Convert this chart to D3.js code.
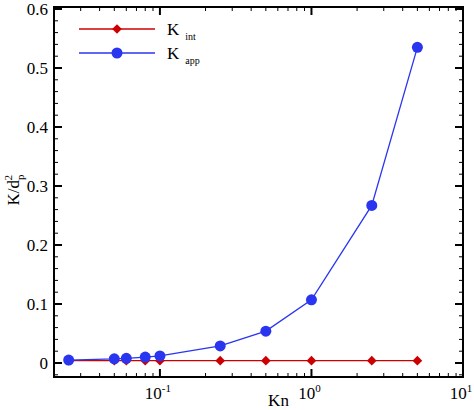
<!DOCTYPE html>
<html><head><meta charset="utf-8">
<script src="https://cdn.jsdelivr.net/npm/d3@7"></script>
<style>body{margin:0;background:#fff}svg text{font-family:"Liberation Serif","Times New Roman","DejaVu Serif",serif;}</style>
</head><body><div id="chart"></div>
<script>
const kn = [0.025, 0.05, 0.06, 0.08, 0.1, 0.25, 0.5, 1, 2.5, 5];
const kApp = [0.005, 0.007, 0.008, 0.01, 0.012, 0.029, 0.054, 0.107, 0.267, 0.535];
const kInt = [0.004, 0.004, 0.004, 0.004, 0.004, 0.004, 0.004, 0.004, 0.004, 0.004];
const yTicks = [0, 0.1, 0.2, 0.3, 0.4, 0.5, 0.6];
const xTicks = [0.1, 1, 10];

const width = 474, height = 410;
const x0 = 54, x1 = 463, yTop = 7, yBot = 377;

const svg = d3.select("#chart").append("svg").attr("width", width).attr("height", height);
const x = d3.scaleLog().domain([0.02, 10]).range([x0, x1]);
const y = d3.scaleLinear().domain([0, 0.6]).range([363, 9]);

// minor ticks
const yMinor = d3.range(-0.02, 0.601, 0.02).filter(v => Math.abs(v * 10 - Math.round(v * 10)) > 1e-6);
const xMinor = [];
[0.01, 0.1, 1].forEach(d => { for (let k = 2; k <= 9; k++) { const v = d * k; if (v >= 0.02 && v < 10) xMinor.push(v); } });

const g = svg.append("g").attr("stroke", "#000").attr("stroke-width", 1);
yTicks.forEach(v => {
  g.append("line").attr("x1", x0).attr("x2", x0 + 8).attr("y1", y(v)).attr("y2", y(v)).attr("stroke-width", 2);
  g.append("line").attr("x1", x1).attr("x2", x1 - 8).attr("y1", y(v)).attr("y2", y(v)).attr("stroke-width", 2);
});
yMinor.forEach(v => {
  g.append("line").attr("x1", x0).attr("x2", x0 + 4).attr("y1", y(v)).attr("y2", y(v));
  g.append("line").attr("x1", x1).attr("x2", x1 - 4).attr("y1", y(v)).attr("y2", y(v));
});
xTicks.forEach(v => {
  g.append("line").attr("x1", x(v)).attr("x2", x(v)).attr("y1", yBot).attr("y2", yBot - 8).attr("stroke-width", 2);
  g.append("line").attr("x1", x(v)).attr("x2", x(v)).attr("y1", yTop).attr("y2", yTop + 8).attr("stroke-width", 2);
});
xMinor.forEach(v => {
  g.append("line").attr("x1", x(v)).attr("x2", x(v)).attr("y1", yBot).attr("y2", yBot - 4);
  g.append("line").attr("x1", x(v)).attr("x2", x(v)).attr("y1", yTop).attr("y2", yTop + 4);
});
svg.append("rect").attr("x", x0).attr("y", yTop).attr("width", x1 - x0).attr("height", yBot - yTop)
  .attr("fill", "none").attr("stroke", "#000").attr("stroke-width", 2);

// tick labels
svg.selectAll(".yl").data(yTicks).join("text").attr("x", x0 - 6).attr("y", d => y(d) + 6)
  .attr("text-anchor", "end").attr("font-size", 17).text(d => d === 0 ? "0" : d3.format(".1f")(d));
const xl = svg.selectAll(".xl").data(xTicks).join("text").attr("x", d => x(d) - 2).attr("y", yBot + 22)
  .attr("text-anchor", "middle").attr("font-size", 17);
xl.append("tspan").text("10");
xl.append("tspan").attr("dy", -7).attr("font-size", 11).text(d => Math.round(Math.log10(d)));

svg.append("text").attr("x", (x0 + x1) / 2 + 20).attr("y", 406).attr("text-anchor", "middle").attr("font-size", 17).text("Kn");
const yl = svg.append("text").attr("transform", "translate(19,190) rotate(-90)").attr("text-anchor", "middle").attr("font-size", 17);
yl.append("tspan").text("K/d");
yl.append("tspan").attr("dy", 5).attr("font-size", 11).text("p");
yl.append("tspan").attr("dy", -12).attr("dx", -6).attr("font-size", 11).text("2");

// series
const line = d3.line().x(d => x(d[0])).y(d => y(d[1]));
const red = "#cc0000", blue = "#2a35f0";
const intData = d3.zip(kn, kInt), appData = d3.zip(kn, kApp);
svg.append("path").datum(intData).attr("d", line).attr("fill", "none").attr("stroke", red).attr("stroke-width", 1.3);
svg.append("path").datum(appData).attr("d", line).attr("fill", "none").attr("stroke", blue).attr("stroke-width", 1.3);
const diamond = d3.symbol().type(d3.symbolDiamond2).size(60);
svg.selectAll(".dm").data(intData).join("path").attr("transform", d => `translate(${x(d[0])},${y(d[1])})`)
  .attr("d", diamond).attr("fill", red);
svg.selectAll(".ci").data(appData).join("circle").attr("cx", d => x(d[0])).attr("cy", d => y(d[1]))
  .attr("r", 5.5).attr("fill", blue);

// legend
const leg = [{name: "int", c: red, t: "d"}, {name: "app", c: blue, t: "c"}];
leg.forEach((l, i) => {
  const ly = 29 + i * 24;
  svg.append("line").attr("x1", 79).attr("x2", 155).attr("y1", ly).attr("y2", ly).attr("stroke", l.c).attr("stroke-width", 1.3);
  if (l.t === "d") svg.append("path").attr("transform", `translate(117,${ly})`).attr("d", diamond).attr("fill", l.c);
  else svg.append("circle").attr("cx", 117).attr("cy", ly).attr("r", 5.5).attr("fill", l.c);
  const t = svg.append("text").attr("x", 167).attr("y", ly + 6).attr("font-size", 17);
  t.append("tspan").text("K");
  t.append("tspan").attr("dx", 6).attr("dy", 5).attr("font-size", 10).text(l.name);
});
</script></body></html>
